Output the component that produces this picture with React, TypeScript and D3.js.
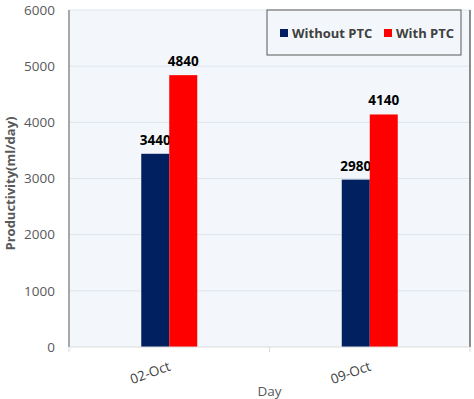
import React from 'react';
import * as d3 from 'd3';

const days = ['02-Oct', '09-Oct'];
const withoutPTC = [3440, 2980];
const withPTC = [4840, 4140];
const seriesNames = ['Without PTC', 'With PTC'];
const yTicks = [0, 1000, 2000, 3000, 4000, 5000, 6000];

const W = 474;
const H = 399;
const margin = {top: 10, right: 4, bottom: 52, left: 69};
const colors = ['#002060', '#ff0000'];
const font = '"Open Sans", sans-serif';

export default function App() {
  const innerW = W - margin.left - margin.right;
  const innerH = H - margin.top - margin.bottom;

  const x = d3.scaleBand<string>()
      .domain(days)
      .range([0, innerW]);
  const xs = d3.scaleBand<string>()
      .domain(seriesNames)
      .range([x.bandwidth() / 2 - 28, x.bandwidth() / 2 + 28]);
  const y = d3.scaleLinear().domain([0, 6000]).range([innerH, 0]);

  const series = [withoutPTC, withPTC];

  return (
    <svg width={W} height={H}
      style={{position: 'absolute', left: 0, top: 0, background: '#fff'}}>
      <g transform={`translate(${margin.left},${margin.top})`}>
        <rect width={innerW} height={innerH} fill='#f3f7fb' />
        {yTicks.map((t) => (
          <g key={t}>
            {t > 0 && <line x1={0} x2={innerW} y1={y(t)} y2={y(t)}
              stroke='#dde4ec' strokeWidth={1} />}
            <text x={-14} y={y(t)} dy='0.35em' textAnchor='end'
              fontFamily={font} fontSize={13.5} fill='#595959'>{t}</text>
          </g>
        ))}
        {/* bars */}
        {days.map((d, i) => (
          <g key={d} transform={`translate(${x(d)},0)`}>
            {series.map((s, j) => (
              <g key={j}>
                <rect x={xs(seriesNames[j])} y={y(s[i])}
                  width={xs.bandwidth()} height={innerH - y(s[i])}
                  fill={colors[j]} />
                <text x={(xs(seriesNames[j]) as number) + xs.bandwidth() / 2}
                  y={y(s[i]) - 9} textAnchor='middle' fontFamily={font}
                  fontWeight='bold' fontSize={13.5} fill='#000'>{s[i]}</text>
              </g>
            ))}
          </g>
        ))}
        {/* axes */}
        <line x1={0} x2={0} y1={0} y2={innerH} stroke='#8c8c8c' strokeWidth={1.5} />
        <line x1={innerW} x2={innerW} y1={0} y2={innerH} stroke='#404040' strokeWidth={1.2} />
        <line x1={0} x2={innerW} y1={innerH} y2={innerH} stroke='#d9d9d9' strokeWidth={1} />
        {[0, innerW / 2, innerW].map((tx, i) => (
          <line key={i} x1={tx} x2={tx} y1={innerH} y2={innerH + 5}
            stroke='#d9d9d9' strokeWidth={1} />
        ))}
        {days.map((d) => (
          <text key={d} textAnchor='end' fontFamily={font} fontSize={13.5}
            fill='#404040'
            transform={`translate(${(x(d) as number) + x.bandwidth() / 2 + 2},${innerH + 23}) rotate(-20)`}>
            {d}</text>
        ))}
        <text x={innerW / 2} y={innerH + 49} textAnchor='middle' fontFamily={font}
          fontSize={13.5} fill='#595959'>Day</text>
        <text transform={`translate(${-54},${innerH / 2 + 5}) rotate(-90)`}
          textAnchor='middle' fontFamily={font} fontSize={13}
          fontWeight='bold' fill='#595959'>Productivity(ml/day)</text>
        {/* legend */}
        <g transform={`translate(${267 - margin.left},0)`}>
          <rect x={0} y={0} width={194} height={45} fill='#f3f7fb'
            stroke='#595959' strokeWidth={1} />
          {seriesNames.map((n, j) => (
            <g key={n} transform={`translate(${j === 0 ? 13 : 117},23)`}>
              <rect x={0} y={-4} width={8} height={8} fill={colors[j]} />
              <text x={12} dy='0.35em' fontFamily={font} fontSize={13}
                fontWeight='bold' fill='#404040'>{n}</text>
            </g>
          ))}
        </g>
      </g>
    </svg>
  );
}
